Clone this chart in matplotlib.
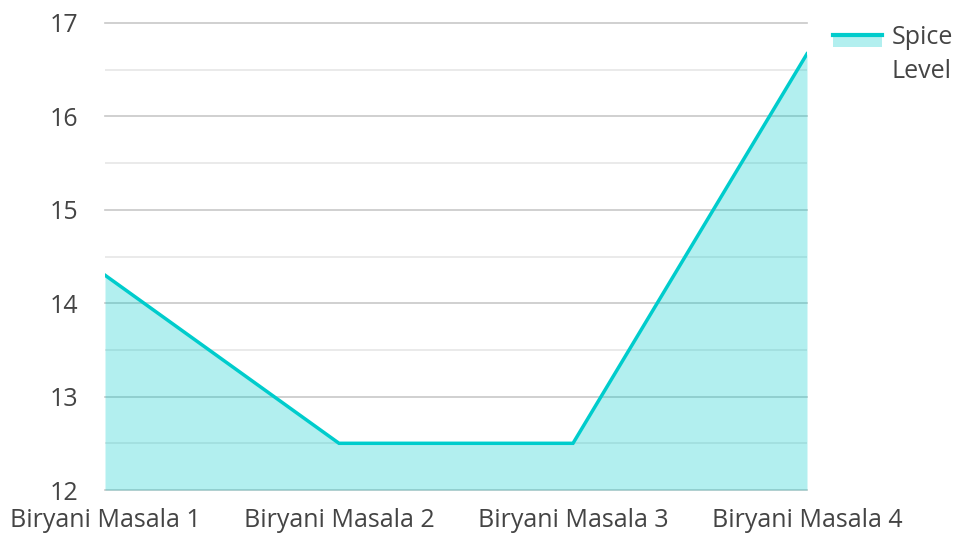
import matplotlib
matplotlib.use("Agg")
import matplotlib.pyplot as plt
from matplotlib.patches import Rectangle
from matplotlib.lines import Line2D
from matplotlib.ticker import MultipleLocator

categories = ["Biryani Masala 1", "Biryani Masala 2", "Biryani Masala 3", "Biryani Masala 4"]
spice_level = [14.3, 12.5, 12.5, 16.67]
y_ticks = [12, 13, 14, 15, 16, 17]
series_name = "Spice\nLevel"

line_color = "#00CCCC"
text_color = "#444444"

plt.rcParams['font.family'] = ['Open Sans', 'DejaVu Sans']

W, H = 954, 533
fig = plt.figure(figsize=(W / 100, H / 100), dpi=100)
ax = fig.add_axes([105 / W, 1 - 490 / H, (807 - 105) / W, (490 - 23) / H])

x = list(range(len(categories)))
ax.fill_between(x, spice_level, 12, color=line_color, alpha=0.3, linewidth=0, zorder=3)
ax.plot(x, spice_level, color=line_color, linewidth=2.5, zorder=4, solid_joinstyle='miter')

ax.set_xlim(0, len(categories) - 1)
ax.set_ylim(12, 17)
ax.set_yticks(y_ticks)
ax.yaxis.set_minor_locator(MultipleLocator(0.5))
ax.set_xticks(x)
ax.set_xticklabels(categories)

ax.grid(axis='y', which='major', color='#c8c8c8', linewidth=1.2, zorder=1)
ax.grid(axis='y', which='minor', color='#e6e6e6', linewidth=1.2, zorder=1)
for gl in ax.get_ygridlines():
    gl.set_clip_on(False)
ax.set_axisbelow(True)
for s in ax.spines.values():
    s.set_visible(False)
ax.tick_params(axis='both', which='both', length=0, labelsize=18, labelcolor=text_color)
ax.tick_params(axis='y', pad=19)
ax.tick_params(axis='x', pad=13)

# legend
fig.add_artist(Rectangle((833 / W, 1 - 47 / H), 49 / W, 13 / H, transform=fig.transFigure,
                         facecolor=line_color, alpha=0.3, edgecolor='none'))
fig.add_artist(Line2D([833 / W, 882 / W], [1 - 35 / H, 1 - 35 / H], transform=fig.transFigure,
                      color=line_color, linewidth=3))
fig.text(892 / W, 1 - 25 / H, series_name, fontsize=18, color=text_color, va='top', ha='left',
         linespacing=1.45)

fig.savefig("out.png", dpi=100)
